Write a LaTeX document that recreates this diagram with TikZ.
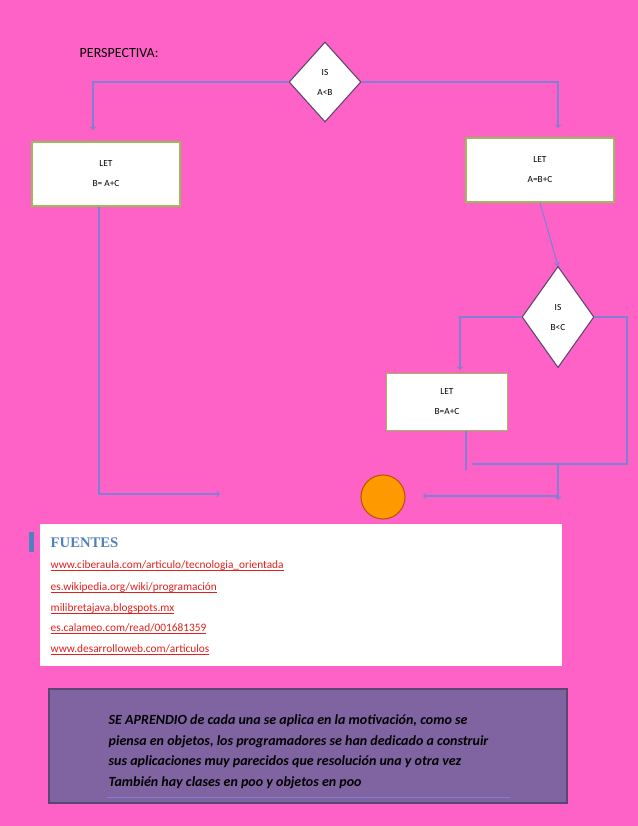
\documentclass[tikz,border=0pt]{standalone}
\usepackage{fontspec}
\setmainfont{Carlito}
\newfontfamily\headfont{Liberation Serif}
\usetikzlibrary{shapes.geometric}
\definecolor{pagepink}{HTML}{FF62C6}
\definecolor{flowblue}{HTML}{7F7FD5}
\definecolor{boxgreen}{HTML}{9BBB59}
\definecolor{fuenteblue}{HTML}{4F81BD}
\definecolor{linkred}{HTML}{E0201B}
\definecolor{notepurple}{HTML}{8064A2}
\begin{document}
\begin{tikzpicture}[x=0.75pt,y=-0.75pt,
letbox/.style ={rectangle, draw=boxgreen, very thick, fill=white,
  align=center, font=\fontsize{7}{15}\selectfont
},
isdiamond/.style ={diamond, draw=notepurple!70!black, thick, fill=white,
  align=center, font=\fontsize{7}{15}\selectfont, inner sep=0pt,
  minimum width=54pt, minimum height=60pt
},
flow/.style ={draw=flowblue, thick},
link/.style ={text=linkred, font=\fontsize{8.5}{10}\selectfont, anchor=west}]
\useasboundingbox (0,0) rectangle (638,826);
\fill[pagepink] (0,0) rectangle (638,826);

\node[anchor=west, font=\fontsize{10.5}{12}\selectfont] (title) at (75,53) {PERSPECTIVA:};

\node (d1) at (325,82) [isdiamond] {IS\\A<B};
\node (let1) at (106,174) [letbox, minimum width=111pt, minimum height=48pt] {LET\\B= A+C};
\node (let2) at (540,170) [letbox, minimum width=111pt, minimum height=48pt] {LET\\A=B+C};
\node (d2) at (558,317) [isdiamond, minimum height=76pt] {IS\\B<C};
\node (let3) at (447,402) [letbox, minimum width=91pt, minimum height=43pt] {LET\\B=A+C};
\node (end) at (383,497) [circle, draw=orange!70!black, thick, fill=orange!80!yellow, minimum size=33pt] {};

\coordinate (c1) at (93,130);
\coordinate (c2) at (558,128);
\coordinate (c3) at (460,370);
\coordinate (c4) at (472,464);
\coordinate (c5) at (466,470);
\coordinate (c6) at (558,500);
\coordinate (c7) at (423,496);
\coordinate (c8) at (220,494);

\draw[flow,->] (d1.west) -- (93,82) -- (c1);
\draw[flow,->] (d1.east) -- (558,82) -- (c2);
\draw[flow,->] (let2.south) -- (d2.north);
\draw[flow,->] (d2.west) -- (460,317) -- (c3);
\draw[flow] (d2.east) -- (627,317) -- (627,464) -- (c4);
\draw[flow] (let3.south -| c5) -- (c5);
\draw[flow,->] (558,464) -- (c6);
\draw[flow,->] (558,496) -- (c7);
\draw[flow,->] (let1.south -| 99,0) -- (99,494) -- (c8);

% fuentes
\fill[white] (40,524) rectangle (562,666);
\fill[fuenteblue] (29,532) rectangle (34,552);
\node[anchor=west, text=fuenteblue, font=\headfont\bfseries\fontsize{11}{13}\selectfont] (fuentes) at (46,543) {FUENTES};
\node[link] (l1) at (46,566) {\underbar{www.ciberaula.com/articulo/tecnologia\_orientada}};
\node[link] (l2) at (46,588) {\underbar{es.wikipedia.org/wiki/programación}};
\node[link] (l3) at (46,609) {\underbar{milibretajava.blogspots.mx}};
\node[link] (l4) at (46,629) {\underbar{es.calameo.com/read/001681359}};
\node[link] (l5) at (46,650) {\underbar{www.desarrolloweb.com/articulos}};

% nota
\draw[notepurple!70!black, thick, fill=notepurple] (49,689) rectangle (567,803);
\node[anchor=north west, align=left, font=\bfseries\itshape\fontsize{10.5}{15.5}\selectfont] (note) at (104,710)
  {SE APRENDIO de cada una se aplica en la motivación, como se\\
   piensa en objetos, los programadores se han dedicado a construir\\
   sus aplicaciones muy parecidos que resolución una y otra vez\\
   También hay clases en poo y objetos en poo};
\draw[flowblue] (107,797) -- (510,797);
\end{tikzpicture}
\end{document}
